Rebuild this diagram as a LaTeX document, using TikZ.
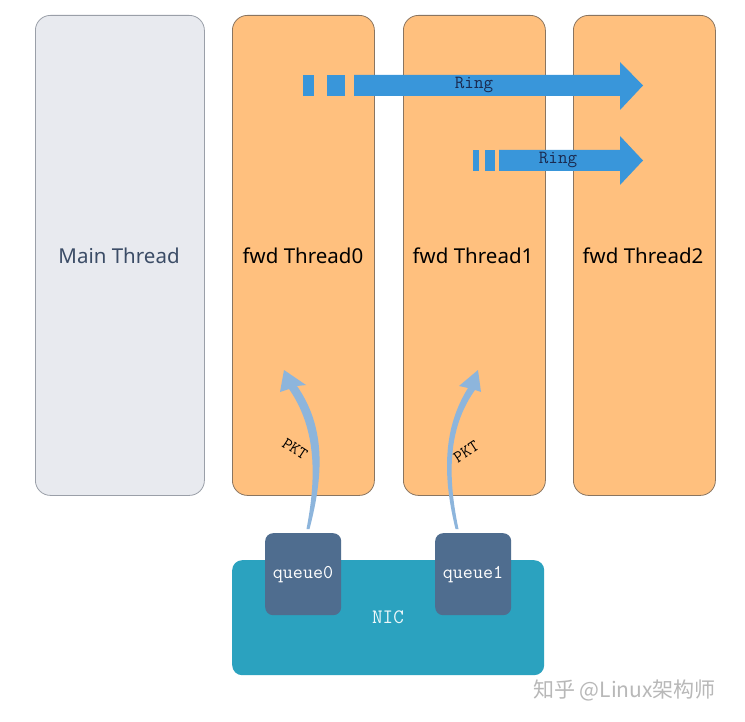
\documentclass[tikz,border=0pt]{standalone}
\usepackage{fontspec}
\setmainfont{Noto Sans}
\newfontfamily\monof{Latin Modern Mono}
\newfontfamily\cjk{Noto Sans CJK SC}
\usetikzlibrary{calc,arrows.meta}
\definecolor{mainfill}{HTML}{E8EAEF}
\definecolor{mainborder}{HTML}{9A9FA8}
\definecolor{fwdfill}{HTML}{FFC07E}
\definecolor{fwdborder}{HTML}{8A7560}
\definecolor{ringblue}{HTML}{3996DA}
\definecolor{pktblue}{HTML}{8DB5DC}
\definecolor{queuefill}{HTML}{4F6D8F}
\definecolor{nicfill}{HTML}{2BA2BF}
\definecolor{maintext}{HTML}{3B4C66}
\definecolor{ringtext}{HTML}{1A2A50}
\definecolor{wmgray}{HTML}{B8B8B8}
\tikzset{
  col/.style={draw, line width=0.8pt, rounded corners=15pt, anchor=north west, inner sep=0pt},
  maincol/.style={col, fill=mainfill, draw=mainborder, minimum width=169pt, minimum height=480pt},
  fwdcol/.style={col, fill=fwdfill, draw=fwdborder, minimum width=142pt, minimum height=480pt},
  collabel/.style={font=\fontsize{20.5}{24}\selectfont, text=black},
  queuebox/.style={fill=queuefill, rounded corners=8pt, anchor=north west, minimum width=76pt, minimum height=82pt, inner sep=0pt},
  monolabel/.style={font=\monof\fontsize{18.5}{20}\selectfont},
  ringbody/.style={fill=ringblue},
  pkt/.style={fill=pktblue},
}
\begin{document}
\begin{tikzpicture}[x=1pt,y=-1pt]
\useasboundingbox (0,0) rectangle (745,722);
\fill[white] (0,0) rectangle (745,722);
% columns
\node[maincol] (main) at (35,15) {};
\node[fwdcol] (t0) at (232,15) {};
\node[fwdcol] (t1) at (403,15) {};
\node[fwdcol] (t2) at (573,15) {};
\node[collabel, text=maintext] at (119,256) {Main Thread};
\node[collabel] at (303,256) {fwd Thread0};
\node[collabel] at (473,256) {fwd Thread1};
\node[collabel] at (643,256) {fwd Thread2};
% Ring arrow 1
\fill[ringbody] (303,75) rectangle (314,96);
\fill[ringbody] (327,75) rectangle (345,96);
\fill[ringbody] (354,75) -- (620,75) -- (620,62) -- (643,85.5) -- (620,110) -- (620,96) -- (354,96) -- cycle;
\node[monolabel, text=ringtext] (ring1) at (474,85) {Ring};
% Ring arrow 2
\fill[ringbody] (473,150) rectangle (479,171);
\fill[ringbody] (485,150) rectangle (495,171);
\fill[ringbody] (499,150) -- (620,150) -- (620,136) -- (643,160.5) -- (620,185) -- (620,171) -- (499,171) -- cycle;
\node[monolabel, text=ringtext] (ring2) at (558,160) {Ring};
% NIC
\node[fill=nicfill, rounded corners=10pt, anchor=north west, minimum width=312pt, minimum height=115pt, inner sep=0pt] (nic) at (232,560) {};
\node[monolabel, font=\monof\fontsize{20.5}{22}\selectfont, text=white!92!nicfill] at (388,617) {NIC};
\node[queuebox] (q0) at (265,533) {};
\node[queuebox] (q1) at (435,533) {};
\node[monolabel, font=\monof\fontsize{19.5}{21}\selectfont, text=white] at (303,575) {queue0};
\node[monolabel, font=\monof\fontsize{19.5}{21}\selectfont, text=white] at (473,575) {queue1};
% PKT arrows
\fill[pkt] (306.5,529) .. controls (318,470) and (314,425) .. (289,389)
  -- (280,392) -- (284,370) -- (306,385) -- (297,386)
  .. controls (324,425) and (325,470) .. (309.5,529) -- cycle;
\fill[pkt] (455.5,529) .. controls (441,470) and (445,425) .. (468,388)
  -- (459,386) -- (478,370) -- (481,392) -- (475,390)
  .. controls (450,425) and (446,470) .. (458.5,529) -- cycle;
\node[font=\monof\fontsize{17}{18}\selectfont, rotate=-33, inner sep=0pt] at (295,449) {PKT};
\node[font=\monof\fontsize{17}{18}\selectfont, rotate=33, inner sep=0pt] at (466,452) {PKT};
% watermark
\node[font=\cjk\fontsize{21}{24}\selectfont, text=wmgray, anchor=west, inner sep=0pt] at (533,690) {知乎 @Linux架构师};
\end{tikzpicture}
\end{document}
